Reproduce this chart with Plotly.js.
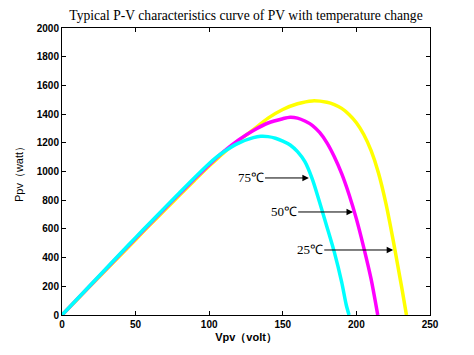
<!DOCTYPE html>
<html>
<head>
<meta charset="utf-8">
<script src="https://cdn.plot.ly/plotly-3.0.1.min.js"></script>
<style>html,body{margin:0;padding:0;background:#fff;}#chart{width:474px;height:355px;}</style>
</head>
<body>
<div id="chart"></div>
<script>
// Voltage (V) and power (W) samples
const v25 = [0, 10, 20, 30, 40, 50, 60, 70, 80, 90, 100, 110, 120, 130, 140, 150, 160, 170, 180, 185, 190, 195, 200, 205, 210, 215, 220, 225, 228, 231, 234];
const p25 = [0, 105, 210, 315, 420, 525, 630, 733, 836, 938, 1038, 1132, 1215, 1292, 1372, 1432, 1472, 1492, 1482, 1466, 1440, 1398, 1340, 1258, 1145, 990, 780, 520, 350, 180, 0];

const v50 = [0, 10, 20, 30, 40, 50, 60, 70, 80, 90, 100, 110, 120, 130, 140, 150, 155, 160, 165, 170, 175, 180, 185, 190, 195, 200, 205, 210, 214.5];
const p50 = [0, 107, 214, 321, 428, 534, 639, 744, 847, 949, 1048, 1140, 1220, 1286, 1338, 1368, 1378, 1372, 1352, 1322, 1272, 1200, 1103, 985, 840, 670, 470, 250, 0];

const v75 = [0, 10, 20, 30, 40, 50, 60, 70, 80, 90, 100, 105, 110, 120, 130, 135, 140, 145, 150, 155, 160, 165, 170, 175, 180, 185, 190, 193, 195];
const p75 = [0, 108, 216, 324, 432, 539, 645, 750, 854, 957, 1056, 1100, 1138, 1198, 1236, 1245, 1243, 1232, 1212, 1185, 1138, 1068, 948, 785, 614, 438, 229, 75, 0];

const labels = ['25℃', '50℃', '75℃'];
const colors = ['#ffff00', '#ff00ff', '#00ffff'];
// annotation anchor (text centre) and arrow tips, in data units
const labelX = [168.3, 150.6, 128.1];
const labelY = [453, 718, 955];
const tipX = [225, 197.7, 167.7];

const xTicks = [0, 50, 100, 150, 200, 250];
const yTicks = [0, 200, 400, 600, 800, 1000, 1200, 1400, 1600, 1800, 2000];

const series = [[v25, p25], [v50, p50], [v75, p75]];
const traces = series.map((s, i) => ({
  x: s[0], y: s[1], type: 'scatter', mode: 'lines', name: labels[i],
  line: {color: colors[i], width: 3.5, shape: 'spline', smoothing: 0.8}, hoverinfo: 'skip'
}));

const annotations = labels.map((t, i) => ({
  x: tipX[i], y: labelY[i], xref: 'x', yref: 'y',
  ax: labelX[i], ay: labelY[i], axref: 'x', ayref: 'y',
  text: t, showarrow: true, arrowhead: 2, arrowsize: 1.3, arrowwidth: 1,
  arrowcolor: '#000', standoff: 0, startstandoff: 0,
  font: {family: 'Liberation Serif, serif', size: 13, color: '#000'}
}));

const tickFont = {family: 'Liberation Sans, Arial, sans-serif', size: 10, color: '#000', weight: 'bold'};

const layout = {
  width: 474, height: 355,
  margin: {l: 62, r: 44, t: 28, b: 40},
  paper_bgcolor: '#fff', plot_bgcolor: '#fff',
  showlegend: false,
  title: {
    text: 'Typical P-V characteristics curve of PV with temperature change',
    font: {family: 'Liberation Serif, serif', size: 13.6, color: '#000'},
    x: 0.5, xref: 'paper', xanchor: 'center',
    y: 0.958, yref: 'container', yanchor: 'middle'
  },
  xaxis: {
    range: [0, 250], tickvals: xTicks, ticktext: xTicks.map(String),
    showgrid: false, zeroline: false, showline: true, linecolor: '#000', linewidth: 1,
    mirror: 'ticks', ticks: 'inside', ticklen: 4, tickcolor: '#000',
    tickfont: tickFont,
    title: {text: 'Vpv（volt）', font: {family: 'Liberation Sans, Arial, sans-serif', size: 11, color: '#000', weight: 'bold'}, standoff: 4}
  },
  yaxis: {
    range: [0, 2000], tickvals: yTicks, ticktext: yTicks.map(String),
    showgrid: false, zeroline: false, showline: true, linecolor: '#000', linewidth: 1,
    mirror: 'ticks', ticks: 'inside', ticklen: 4, tickcolor: '#000',
    tickfont: tickFont,
    title: {text: 'Ppv（watt）', font: {family: 'Liberation Sans, Arial, sans-serif', size: 11, color: '#000'}, standoff: 10}
  },
  annotations: annotations
};

Plotly.newPlot('chart', traces, layout, {staticPlot: true, displayModeBar: false});
</script>
</body>
</html>
